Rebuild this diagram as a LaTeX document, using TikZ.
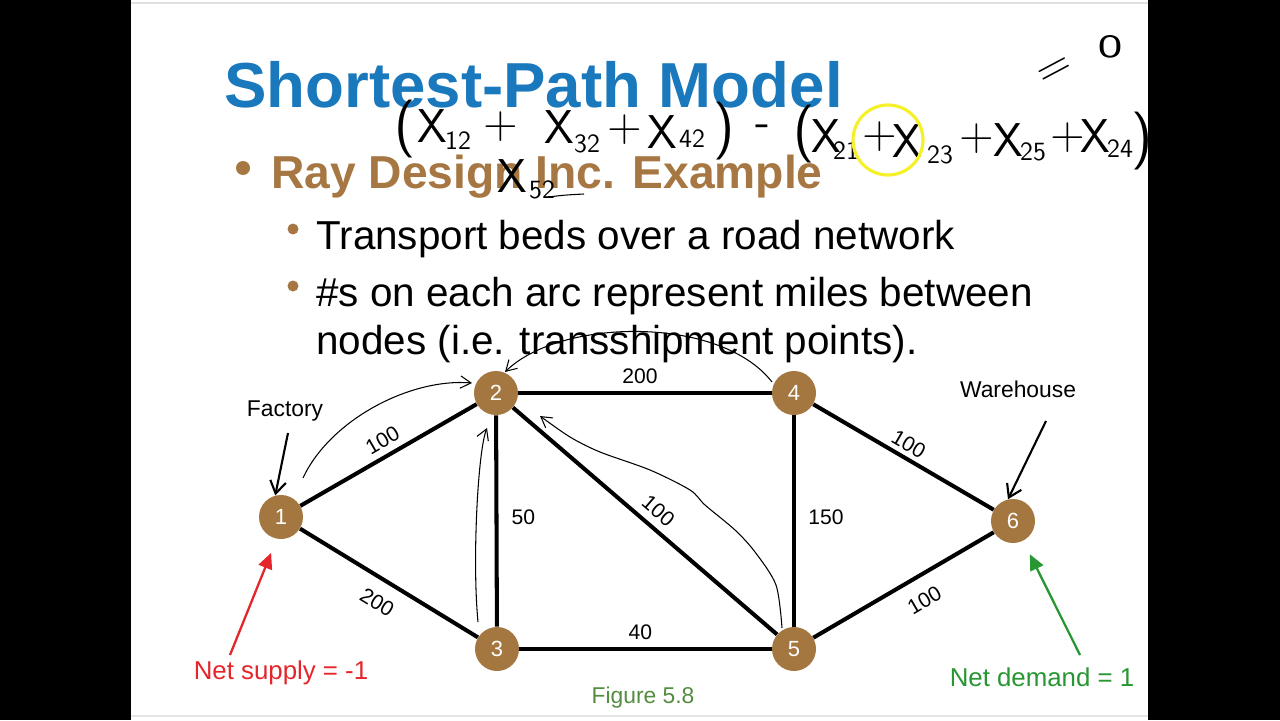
\documentclass[tikz,border=0pt]{standalone}
\usepackage{fontspec}
\setmainfont{Liberation Sans}
\usetikzlibrary{arrows.meta}
\definecolor{titleblue}{RGB}{26,120,188}
\definecolor{accent}{RGB}{166,119,66}
\definecolor{vertbrown}{RGB}{164,118,64}
\definecolor{supplyred}{RGB}{228,38,44}
\definecolor{demandgreen}{RGB}{40,150,50}
\definecolor{figgreen}{RGB}{84,140,64}
\definecolor{markyellow}{RGB}{245,240,40}
\begin{document}
\begin{tikzpicture}[x=0.02cm,y=-0.02cm,
  vert/.style={circle, fill=vertbrown, minimum size=0.88cm, inner sep=0pt,
    text=white, font=\fontsize{12.5}{14}\selectfont},
  edge/.style={line width=2.3pt, black},
  lab/.style={font=\fontsize{12}{14}\selectfont, inner sep=2pt},
  note/.style={font=\fontsize{13}{15}\selectfont, inner sep=0pt},
  bigtag/.style={font=\fontsize{14.7}{17}\selectfont, inner sep=0pt},
  bodytext/.style={anchor=base west, inner sep=0pt, font=\fontsize{23}{27}\selectfont},
  hx/.style={inner sep=0pt, font=\sffamily\fontsize{27}{27}\selectfont},
  hs/.style={inner sep=0pt, font=\sffamily\fontsize{15}{15}\selectfont},
  hp/.style={inner sep=0pt, font=\sffamily\fontsize{33}{33}\selectfont},
  hand/.style={line width=0.6pt, black},
  handtip/.style={hand, -{Straight Barb[length=6pt,width=7pt,line width=0.6pt]}},
  blackarrow/.style={line width=1.2pt, black, -{Straight Barb[length=7pt,width=9pt,line width=1.2pt]}},
]
% background and slide
\fill[black] (0,0) rectangle (1280,720);
\fill[white] (131,0) rectangle (1148,720);
\draw[black!12, line width=1pt] (131,3) -- (1148,3);
\draw[black!10, line width=1.5pt] (131,716) -- (1148,716);

% title and bullets
\node[anchor=base west, inner sep=0pt, font=\fontsize{36.2}{40}\selectfont\bfseries, text=titleblue] (title) at (224,107) {Shortest-Path Model};
\fill[accent] (243,168) circle (7);
\node[anchor=base west, inner sep=0pt, font=\fontsize{26.3}{30}\selectfont\bfseries, text=accent] (sub) at (271,188) {Ray Design Inc. Example};
\fill[accent] (293,229) circle (5.5);
\node[bodytext] (b1) at (316,249) {Transport beds over a road network};
\fill[accent] (293,286) circle (5.5);
\node[bodytext] (b2) at (316,306) {\#s on each arc represent miles between};
\node[bodytext] (b3) at (316,354) {nodes (i.e. transshipment points).};

% network
\node[vert] (n1) at (281,517) {1};
\node[vert] (n2) at (496,393) {2};
\node[vert] (n3) at (497,649) {3};
\node[vert] (n4) at (794,393) {4};
\node[vert] (n5) at (794,649) {5};
\node[vert] (n6) at (1013,521) {6};

\draw[edge] (n1) -- node[lab, sloped, above=1.5pt, pos=0.51] {100} (n2);
\draw[edge] (n1) -- node[lab, sloped, below=5.5pt, pos=0.5] {200} (n3);
\draw[edge] (n2) -- node[lab, right=5.5pt, pos=0.48] {50} (n3);
\draw[edge] (n2) -- node[lab, above=2pt, pos=0.48] {200} (n4);
\draw[edge] (n2) -- node[lab, sloped, above=2pt, pos=0.51] {100} (n5);
\draw[edge] (n3) -- node[lab, above=2pt, pos=0.48] {40} (n5);
\draw[edge] (n4) -- node[lab, right=5pt, pos=0.48] {150} (n5);
\draw[edge] (n4) -- node[lab, sloped, above=0.5pt, pos=0.49] {100} (n6);
\draw[edge] (n5) -- node[lab, sloped, below=6pt, pos=0.55] {100} (n6);

% tags
\node[note] (fac) at (285,411) {Factory};
\node[note] (wh) at (1018,389) {Warehouse};
\node[bigtag, text=supplyred] (sup) at (281,673) {Net supply = -1};
\node[bigtag, text=demandgreen] (dem) at (1042,677) {Net demand = 1};
\node[note, text=figgreen] (fig) at (643,698) {Figure 5.8};

\coordinate (fa) at (288,433);
\coordinate (wa) at (1046,421);
\coordinate (sa) at (230,655);
\coordinate (da) at (1080,655);
\draw[blackarrow] (fa) -- (n1.105);
\draw[blackarrow] (wa) -- (n6.103);
\draw[line width=1.3pt, supplyred, -{Triangle[length=9pt,width=8pt]}, shorten >=8.5pt] (sa) -- (n1.259);
\draw[line width=1.3pt, demandgreen, -{Triangle[length=9pt,width=8pt]}, shorten >=8.5pt] (da) -- (n6.-63);

% handwritten annotations: (X12 + X32 + X42) - (X21 + X23 + X25 + X24) = 0
\node[hp] (p1) at (405,129) {(};
\node[hx] (x12) at (432,126) {X};
\node[hs] (s12) at (458,141) {12};
\node[hx] (pl1) at (501,127) {+};
\node[hx] (x32) at (559,127) {X};
\node[hs] (s32) at (587,144) {32};
\node[hx] (pl2) at (625,130) {+};
\node[hx] (x42) at (662,132) {X};
\node[hs] (s42) at (692,139) {42};
\node[hp] (p2) at (724,131) {)};
\node[hx] (mi) at (763,131) {-};
\node[hp] (p3) at (804,134) {(};
\node[hx] (x21) at (826,136) {X};
\node[hs] (s21) at (846,151) {21};
\node[hx] (pl3) at (880,137) {+};
\node[hx] (x23) at (907,141) {X};
\node[hs] (s23) at (940,155) {23};
\node[hx] (pl4) at (977,139) {+};
\node[hx] (x25) at (1008,140) {X};
\node[hs] (s25) at (1033,152) {25};
\node[hx] (pl5) at (1068,138) {+};
\node[hx] (x24) at (1095,136) {X};
\node[hs] (s24) at (1120,149) {24};
\node[hp] (p4) at (1142,141) {)};
\node[hx, rotate=28] (eqs) at (1056,72) {=};
\node[inner sep=0pt] (zero) at (1110,47) {\resizebox{0.5cm}{0.44cm}{\sffamily 0}};
\node[hx] (x52) at (512,176) {X};
\node[hs] (s52) at (542,190) {52};
\draw[hand] (548,197) .. controls (565,195) .. (584,194);
\draw[markyellow, line width=1.8pt] (888,140) circle (35);

\coordinate (h1a) at (303,478);
\coordinate (h1b) at (472,383);
\draw[handtip] (h1a) .. controls (330,420) and (410,378) .. (h1b);
\coordinate (h2a) at (478,622);
\coordinate (h2b) at (487,428);
\draw[handtip] (h2a) .. controls (472,560) and (478,450) .. (h2b);
\coordinate (h3a) at (772,382);
\coordinate (h3b) at (505,372);
\draw[handtip] (h3a) .. controls (720,315) and (560,318) .. (h3b);
\coordinate (h4a) at (782,628);
\coordinate (h4b) at (540,416);
\draw[handtip] plot[smooth] coordinates {(h4a) (776,585) (755,552) (735,530) (705,505) (690,490) (650,470) (600,452) (570,437) (h4b)};
\end{tikzpicture}
\end{document}
